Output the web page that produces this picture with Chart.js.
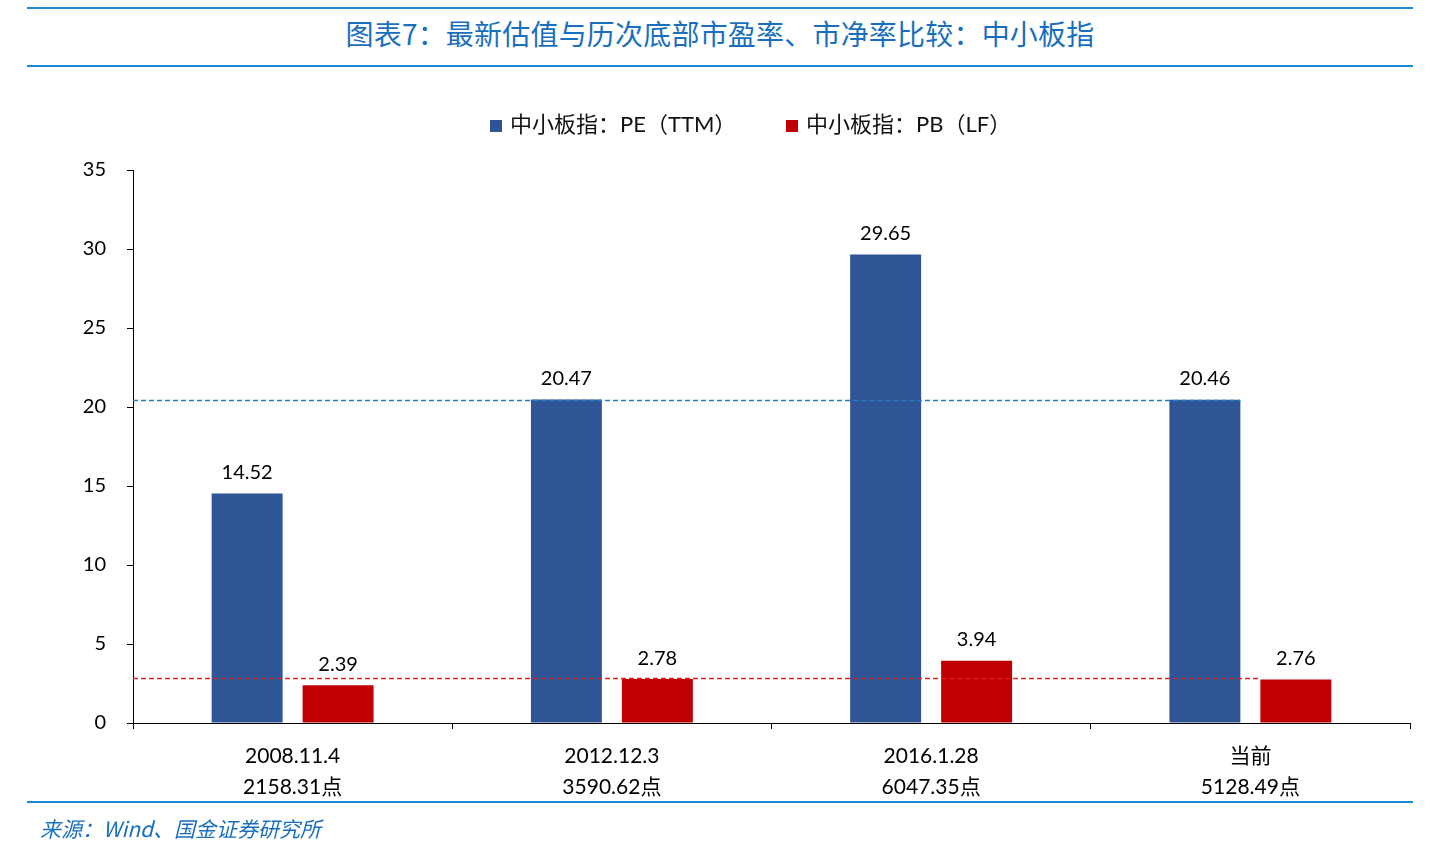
<!DOCTYPE html>
<html>
<head>
<meta charset="utf-8">
<script src="https://cdn.jsdelivr.net/npm/chart.js@4.4.1/dist/chart.umd.min.js"></script>
<style>
  html, body { margin:0; padding:0; background:#fff; }
  body { width:1440px; height:860px; position:relative; overflow:hidden; font-family: Lato, "Noto Sans CJK SC", sans-serif; }
  .hline { position:absolute; left:27px; width:1386px; height:2px; background:#1a8ad4; }
  #title { position:absolute; left:0; width:1440px; top:13px; text-align:center; font-size:28px; line-height:40px; color:#1a6fbd; font-family:"Noto Sans CJK SC", sans-serif; letter-spacing:0.2px; }
  #source { position:absolute; left:40px; top:813px; font-size:21px; line-height:30px; color:#1a6fbd; font-style:italic; font-family:"Noto Sans CJK SC", sans-serif; }
  #legend { position:absolute; top:108px; left:0; width:1440px; height:32px; }
  .li { position:absolute; top:0; font-size:22px; line-height:32px; color:#111; font-family: Lato, "Noto Sans CJK SC", sans-serif; white-space:nowrap; }
  .sw { display:inline-block; width:12px; height:12px; margin-right:8px; vertical-align:0px; }
  #wrap { position:absolute; left:0; top:0; width:1440px; height:860px; }
</style>
</head>
<body>
<div class="hline" style="top:7px"></div>
<div id="title">图表7：最新估值与历次底部市盈率、市净率比较：中小板指</div>
<div class="hline" style="top:65px"></div>
<div id="wrap"><canvas id="c" width="1440" height="860"></canvas></div>
<div id="legend"></div>
<div class="hline" style="top:801px"></div>
<div id="source">来源：Wind、国金证券研究所</div>
<script>
const categories = [["2008.11.4","2158.31点"],["2012.12.3","3590.62点"],["2016.1.28","6047.35点"],["当前","5128.49点"]];
const seriesNames = ["中小板指：PE（TTM）","中小板指：PB（LF）"];
const peValues = [14.52, 20.47, 29.65, 20.46];
const pbValues = [2.39, 2.78, 3.94, 2.76];
const yTicks = [0,5,10,15,20,25,30,35];
const colors = ["#2F5597","#C00000"];

// HTML legend
const legend = document.getElementById('legend');
const legendX = [490, 786];
seriesNames.forEach((n,i)=>{
  const d = document.createElement('div');
  d.className='li'; d.style.left = legendX[i]+'px';
  d.innerHTML = '<span class="sw" style="background:'+colors[i]+'"></span>'+n;
  legend.appendChild(d);
});

const fontFam = 'Lato, "Noto Sans CJK SC", sans-serif';

const labelPlugin = {
  id:'valueLabels',
  afterDatasetsDraw(chart){
    const ctx = chart.ctx;
    const area = chart.chartArea;
    const y = chart.scales.y;
    const m0 = chart.getDatasetMeta(0), m1 = chart.getDatasetMeta(1);
    const last = peValues.length-1;
    // reference lines at current values
    const pe = m0.data[last], pb = m1.data[last];
    ctx.save();
    ctx.lineWidth = 1.5;
    ctx.setLineDash([5,3]);
    ctx.strokeStyle = '#1f80c8';
    ctx.beginPath();
    const yb = Math.round(y.getPixelForValue(peValues[last]))+0.5;
    ctx.moveTo(area.left, yb); ctx.lineTo(pe.x + pe.width/2, yb); ctx.stroke();
    ctx.strokeStyle = '#e0201e';
    ctx.beginPath();
    const yr = Math.round(y.getPixelForValue(pbValues[last]))-0.5;
    ctx.moveTo(area.left, yr); ctx.lineTo(pb.x - pb.width/2, yr); ctx.stroke();
    ctx.restore();
    // value labels
    ctx.save();
    ctx.font = '20px ' + fontFam;
    ctx.fillStyle = '#000';
    ctx.textAlign = 'center';
    ctx.textBaseline = 'middle';
    chart.data.datasets.forEach((ds,di)=>{
      chart.getDatasetMeta(di).data.forEach((el,i)=>{
        ctx.fillText(ds.data[i].toFixed(2), el.x, el.y - 21);
      });
    });
    ctx.restore();
  }
};

new Chart(document.getElementById('c'), {
  type:'bar',
  data:{
    labels: categories,
    datasets:[
      {label: seriesNames[0], data: peValues, backgroundColor: colors[0], categoryPercentage:0.57, barPercentage:0.78},
      {label: seriesNames[1], data: pbValues, backgroundColor: colors[1], categoryPercentage:0.57, barPercentage:0.78}
    ]
  },
  options:{
    responsive:false,
    animation:false,
    layout:{ padding:{ top:170, right:30, left:0, bottom:0 } },
    plugins:{ legend:{display:false}, tooltip:{enabled:false}, title:{display:false} },
    scales:{
      x:{
        grid:{ offset:true, drawOnChartArea:false, tickLength:6, color:'#000', tickColor:'#000', tickWidth:1 },
        border:{ color:'#000', width:1 },
        ticks:{ color:'#000', font:{ size:21, family: fontFam, lineHeight:1.48 }, padding:12, maxRotation:0 },
        afterFit(axis){ axis.height = 137; }
      },
      y:{
        min:0, max:35,
        afterBuildTicks(axis){ axis.ticks = yTicks.map(v=>({value:v})); },
        grid:{ drawOnChartArea:false, tickLength:6, color:'#000', tickColor:'#000' },
        border:{ color:'#000', width:1 },
        ticks:{ color:'#000', font:{ size:20, family: fontFam }, padding:21 },
        afterFit(axis){ axis.width = 133; }
      }
    }
  },
  plugins:[labelPlugin]
});
</script>
</body>
</html>
